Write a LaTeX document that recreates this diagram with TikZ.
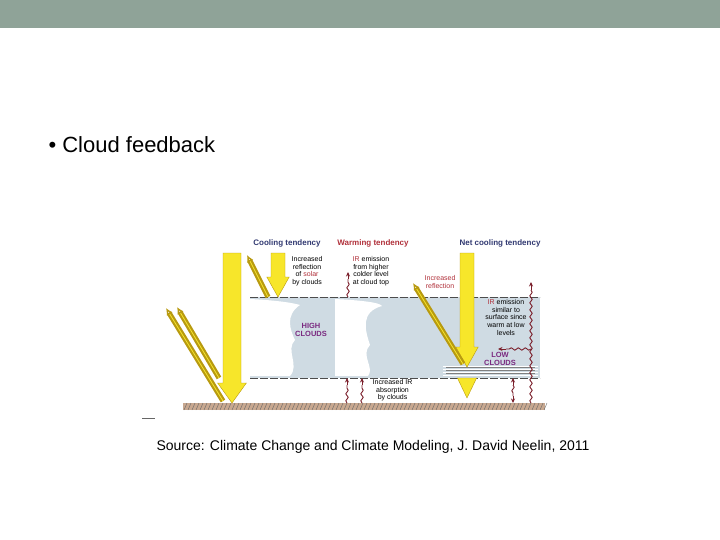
\documentclass[tikz,border=0pt]{standalone}
\usepackage{fontspec}
\setmainfont{Liberation Sans}
\usetikzlibrary{decorations.pathmorphing,patterns,arrows.meta}
\definecolor{topbar}{HTML}{8FA398}
\definecolor{panel}{HTML}{CFDBE3}
\definecolor{sun}{HTML}{F7E62A}
\definecolor{sunedge}{HTML}{B89A10}
\definecolor{irred}{HTML}{7A1E2A}
\definecolor{navy}{HTML}{303870}
\definecolor{wred}{HTML}{B0303A}
\definecolor{purp}{HTML}{7A2A80}
\definecolor{ground}{HTML}{C8A890}
\tikzset{
  bigarrow/.style={draw=sunedge,fill=sun,line width=0.4pt},
  thinarrow/.style={draw=sunedge,line width=2.2pt,-{Latex[length=7pt,width=7pt,open]},double=sun,double distance=0.8pt},
  wavy/.style={irred,line width=0.9pt,decorate,decoration={snake,amplitude=1.2pt,segment length=7pt}},
  wtip/.style={irred,line width=0.9pt,-{Stealth[length=4.5pt,width=4pt]}},
  lbl/.style={font=\fontsize{7}{7.6}\selectfont,align=center,inner sep=0.5pt},
  head/.style={font=\bfseries\fontsize{8}{9}\selectfont,inner sep=0pt}
}
\newcommand{\ydown}[4]{% x, ytop, ybot, halfwidth
  \path[bigarrow] (#1-#4,-#2) -- (#1+#4,-#2) -- (#1+#4,-#3+20) -- (#1+1.6*#4,-#3+20) -- (#1,-#3) -- (#1-1.6*#4,-#3+20) -- (#1-#4,-#3+20) -- cycle;}
\begin{document}
\begin{tikzpicture}[x=1pt,y=1pt]
\useasboundingbox (0,0) rectangle (720,-540);
\fill[topbar] (0,0) rectangle (720,-28);
\node[anchor=west,font=\fontsize{22}{26}\selectfont] (title) at (45,-145) {\textbullet\ Cloud feedback};
% panel
\fill[panel] (250,-297) rectangle (540,-378);
\draw[dashed,dash pattern=on 8pt off 2pt,line width=0.6pt,black!70] (250,-297) -- (540,-297) (250,-378) -- (540,-378);
% clouds
\fill[white] (250,-299) .. controls (270,-300) and (290,-302) .. (300,-305) .. controls (285,-315) and (290,-330) .. (295,-340) .. controls (285,-350) and (300,-365) .. (290,-376) -- (250,-376) -- cycle;
\fill[white] (335,-299) .. controls (355,-300) and (380,-302) .. (382,-306) .. controls (360,-312) and (365,-330) .. (370,-345) .. controls (360,-355) and (375,-368) .. (368,-376) -- (335,-376) -- cycle;
\foreach \yy in {366,369,372,375}{\draw[white,line width=1pt] (443,-\yy) -- (538,-\yy);}
\foreach \yy in {367.5,370.5,373.5}{\draw[black!50,line width=0.3pt] (446,-\yy) -- (535,-\yy);}
% ground
\fill[ground] (183,-403) rectangle (545,-410);
\foreach \gx in {184,188,...,544}{\draw[black!60,line width=0.4pt] (\gx,-410) -- (\gx+3,-403);}
% big arrows
\ydown{232}{253}{403}{9}
\ydown{278}{253}{297}{7}
\ydown{467}{253}{367}{7}
\ydown{467}{378}{398}{6}
% thin reflected arrows
\coordinate (r1s) at (223,-401); \coordinate (r1e) at (166,-308);
\coordinate (r2s) at (219,-378); \coordinate (r2e) at (177,-307);
\coordinate (r3s) at (268,-297); \coordinate (r3e) at (247,-255);
\coordinate (r4s) at (463,-364); \coordinate (r4e) at (413,-283);
\draw[thinarrow] (r1s) -- (r1e);
\draw[thinarrow] (r2s) -- (r2e);
\draw[thinarrow] (r3s) -- (r3e);
\draw[thinarrow] (r4s) -- (r4e);
% IR wavy arrows
\draw[wavy] (348,-297) -- (348,-279); \draw[wtip] (348,-279) -- (348,-272);
\draw[wavy] (347,-403) -- (347,-385); \draw[wtip] (347,-385) -- (347,-378);
\draw[wavy] (362,-403) -- (362,-385); \draw[wtip] (362,-385) -- (362,-378);
\draw[wavy] (513,-385) -- (513,-396); \draw[wtip] (513,-396) -- (513,-403);
\draw[wtip] (513,-385) -- (513,-378);
\draw[wavy] (531,-403) -- (531,-290); \draw[wtip] (531,-290) -- (531,-282);
\draw[wavy] (531,-349) -- (506,-349); \draw[wtip] (506,-349) -- (498,-349);
% labels
\node[head,navy] (h1) at (287,-243) {Cooling tendency};
\node[head,wred] (h2) at (373,-243) {Warming tendency};
\node[head,navy] (h3) at (500,-243) {Net cooling tendency};
\node[lbl,anchor=north west] (t1) at (291,-256) {Increased\\reflection\\of \textcolor{wred}{solar}\\by clouds};
\node[lbl,anchor=north west] (t2) at (352,-256) {\textcolor{wred}{IR} emission\\from higher\\colder level\\at cloud top};
\node[lbl,anchor=north west,wred] (t3) at (424,-275) {Increased\\reflection};
\node[lbl,anchor=north] (t4) at (506,-299) {\textcolor{wred}{IR} emission\\similar to\\surface since\\warm at low\\levels};
\node[lbl,anchor=north west] (t5) at (372,-379) {Increased IR\\absorption\\by clouds};
\node[lbl,font=\bfseries\fontsize{7.5}{8.5}\selectfont,purp] (hc) at (311,-330) {HIGH\\CLOUDS};
\node[lbl,font=\bfseries\fontsize{7.5}{8.5}\selectfont,purp] (lc) at (500,-359) {LOW\\CLOUDS};
\draw[black!60,line width=0.5pt] (142,-418) -- (155,-418);
\node[anchor=west,font=\fontsize{14}{16}\selectfont] (src) at (153,-447) {Source: Climate Change and Climate Modeling, J. David Neelin, 2011};
\end{tikzpicture}
\end{document}
